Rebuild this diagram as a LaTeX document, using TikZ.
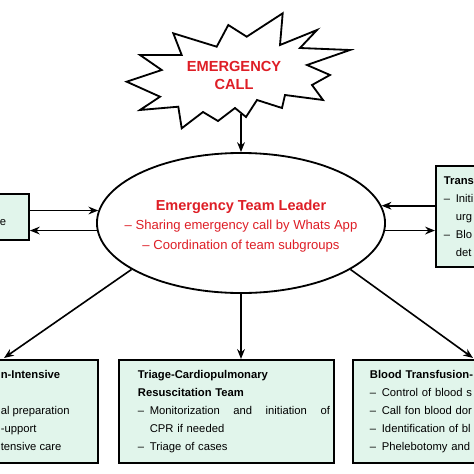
\documentclass[tikz,border=0pt]{standalone}
\usepackage{fontspec}
\setmainfont{Liberation Sans}
\usetikzlibrary{arrows.meta, positioning, shapes.geometric}
\definecolor{emred}{RGB}{222,30,38}
\definecolor{boxfill}{RGB}{225,245,235}
\newcommand{\dsh}{\makebox[8.5pt][l]{--}}
\newcommand{\ind}{\hspace*{8.5pt}}
\tikzset{
  team/.style={rectangle, draw=black, line width=1.3pt, fill=boxfill, anchor=north west,
               align=left, inner ysep=0pt, minimum height=2.575cm,
               font=\fontsize{8}{12.8}\selectfont},
  frag/.style={inner sep=0pt, anchor=west, align=left, font=\fontsize{8}{12.8}\selectfont},
  leader/.style={ellipse, draw=black, line width=1.3pt, fill=white, inner sep=0pt,
                 minimum width=7.2cm, minimum height=3.5cm},
  ledtxt/.style={text=emred, align=center, inner sep=0pt, font=\fontsize{9.3}{13.9}\selectfont},
  ar/.style={-{Stealth[length=7pt,width=5.5pt]}, line width=1.15pt},
  burstline/.style={draw=black, line width=1.3pt, fill=white, line join=miter}
}

\begin{document}
\begin{tikzpicture}[x=0.025cm,y=-0.025cm]
  \useasboundingbox (0,0) rectangle (474,474);
  \clip (0,0) rectangle (474,474);
  \fill[white] (0,0) rectangle (474,474);

  % ---- emergency call (starburst) ----
  \draw[burstline] (282.7,13.3) -- (246.7,36.7) -- (228.3,25) -- (216.7,46.7) -- (173.3,33.3)
    -- (181.7,55) -- (140,55) -- (161.7,70) -- (126.7,81.7) -- (160,96.7) -- (140,110)
    -- (178.3,106.7) -- (181.7,128.3) -- (203,112) -- (218,121) -- (235,108) -- (246,117)
    -- (257,100) -- (282,108) -- (285,95) -- (323,100) -- (312,85) -- (330,75) -- (307,65)
    -- (350,50) -- (300,48) -- (317,30) -- (280,45) -- cycle;
  \node[text=emred, align=center, inner sep=0pt, font=\bfseries\fontsize{10.4}{12.8}\selectfont]
    (call) at (234,75) {EMERGENCY\\CALL};
  \coordinate (burst) at (241,114);

  % ---- team leader ----
  \node[leader] (lead) at (241,223) {};
  \node[ledtxt] (ldtxt) at (241,226)
    {{\bfseries\fontsize{10.3}{13.9}\selectfont Emergency Team Leader}\\
     -- Sharing emergency call by Whats App\\
     -- Coordination of team subgroups};
  \draw[ar] (burst) -- (lead.north);

  % ---- side boxes (cut by the frame) ----
  \node[team, minimum width=3.2cm, minimum height=1.15cm] (lside) at (-100,193) {};
  \node[frag] (lsfrag) at (-0.5,222.5) {e};
  \node[team, minimum width=4cm, minimum height=2.525cm, inner xsep=0.2cm, text width=3.6cm]
    (tbox) at (435,165)
    {\textbf{Trans}\\\dsh Initi\\\ind urg\\\dsh Blo\\\ind det};

  \draw[ar] (lside.east |- lead.175) -- (lead.175);
  \draw[ar] (lead.183) -- (lside.east |- lead.183);
  \draw[ar] (tbox.west |- lead.7) -- (lead.7);
  \draw[ar] (lead.-3.8) -- (tbox.west |- lead.-3.8);

  % ---- bottom row ----
  \node[team, minimum width=5.425cm] (lbox) at (-120,359) {};
  \node[frag] (lfrag) at (0.5,410.5)
    {\textbf{n-Intensive}\\ \\al preparation\\-upport\\tensive care};
  \node[team, minimum width=5.375cm, inner xsep=0.475cm, text width=4.425cm] (cbox) at (118,359)
    {\textbf{Triage-Cardiopulmonary}\\\textbf{Resuscitation Team}\\
     \dsh\hbox to 4.5cm{Monitorization\hfill and\hfill initiation\hfill of}\\\ind CPR if needed\\
     \dsh Triage of cases};
  \node[team, minimum width=6cm, inner xsep=0.425cm, text width=5.15cm] (rbox) at (352,359)
    {\textbf{Blood Transfusion-}\\\dsh Control of blood s\\\dsh Call fon blood dor\\
     \dsh Identification of bl\\\dsh Phelebotomy and};

  \coordinate (lh) at (4,358);
  \coordinate (rh) at (473,358);
  \draw[ar] (lead.203.5) -- (lh);
  \draw[ar] (lead.south) -- (lead.south |- cbox.north);
  \draw[ar] (lead.-23.3) -- (rh);
\end{tikzpicture}
\end{document}
